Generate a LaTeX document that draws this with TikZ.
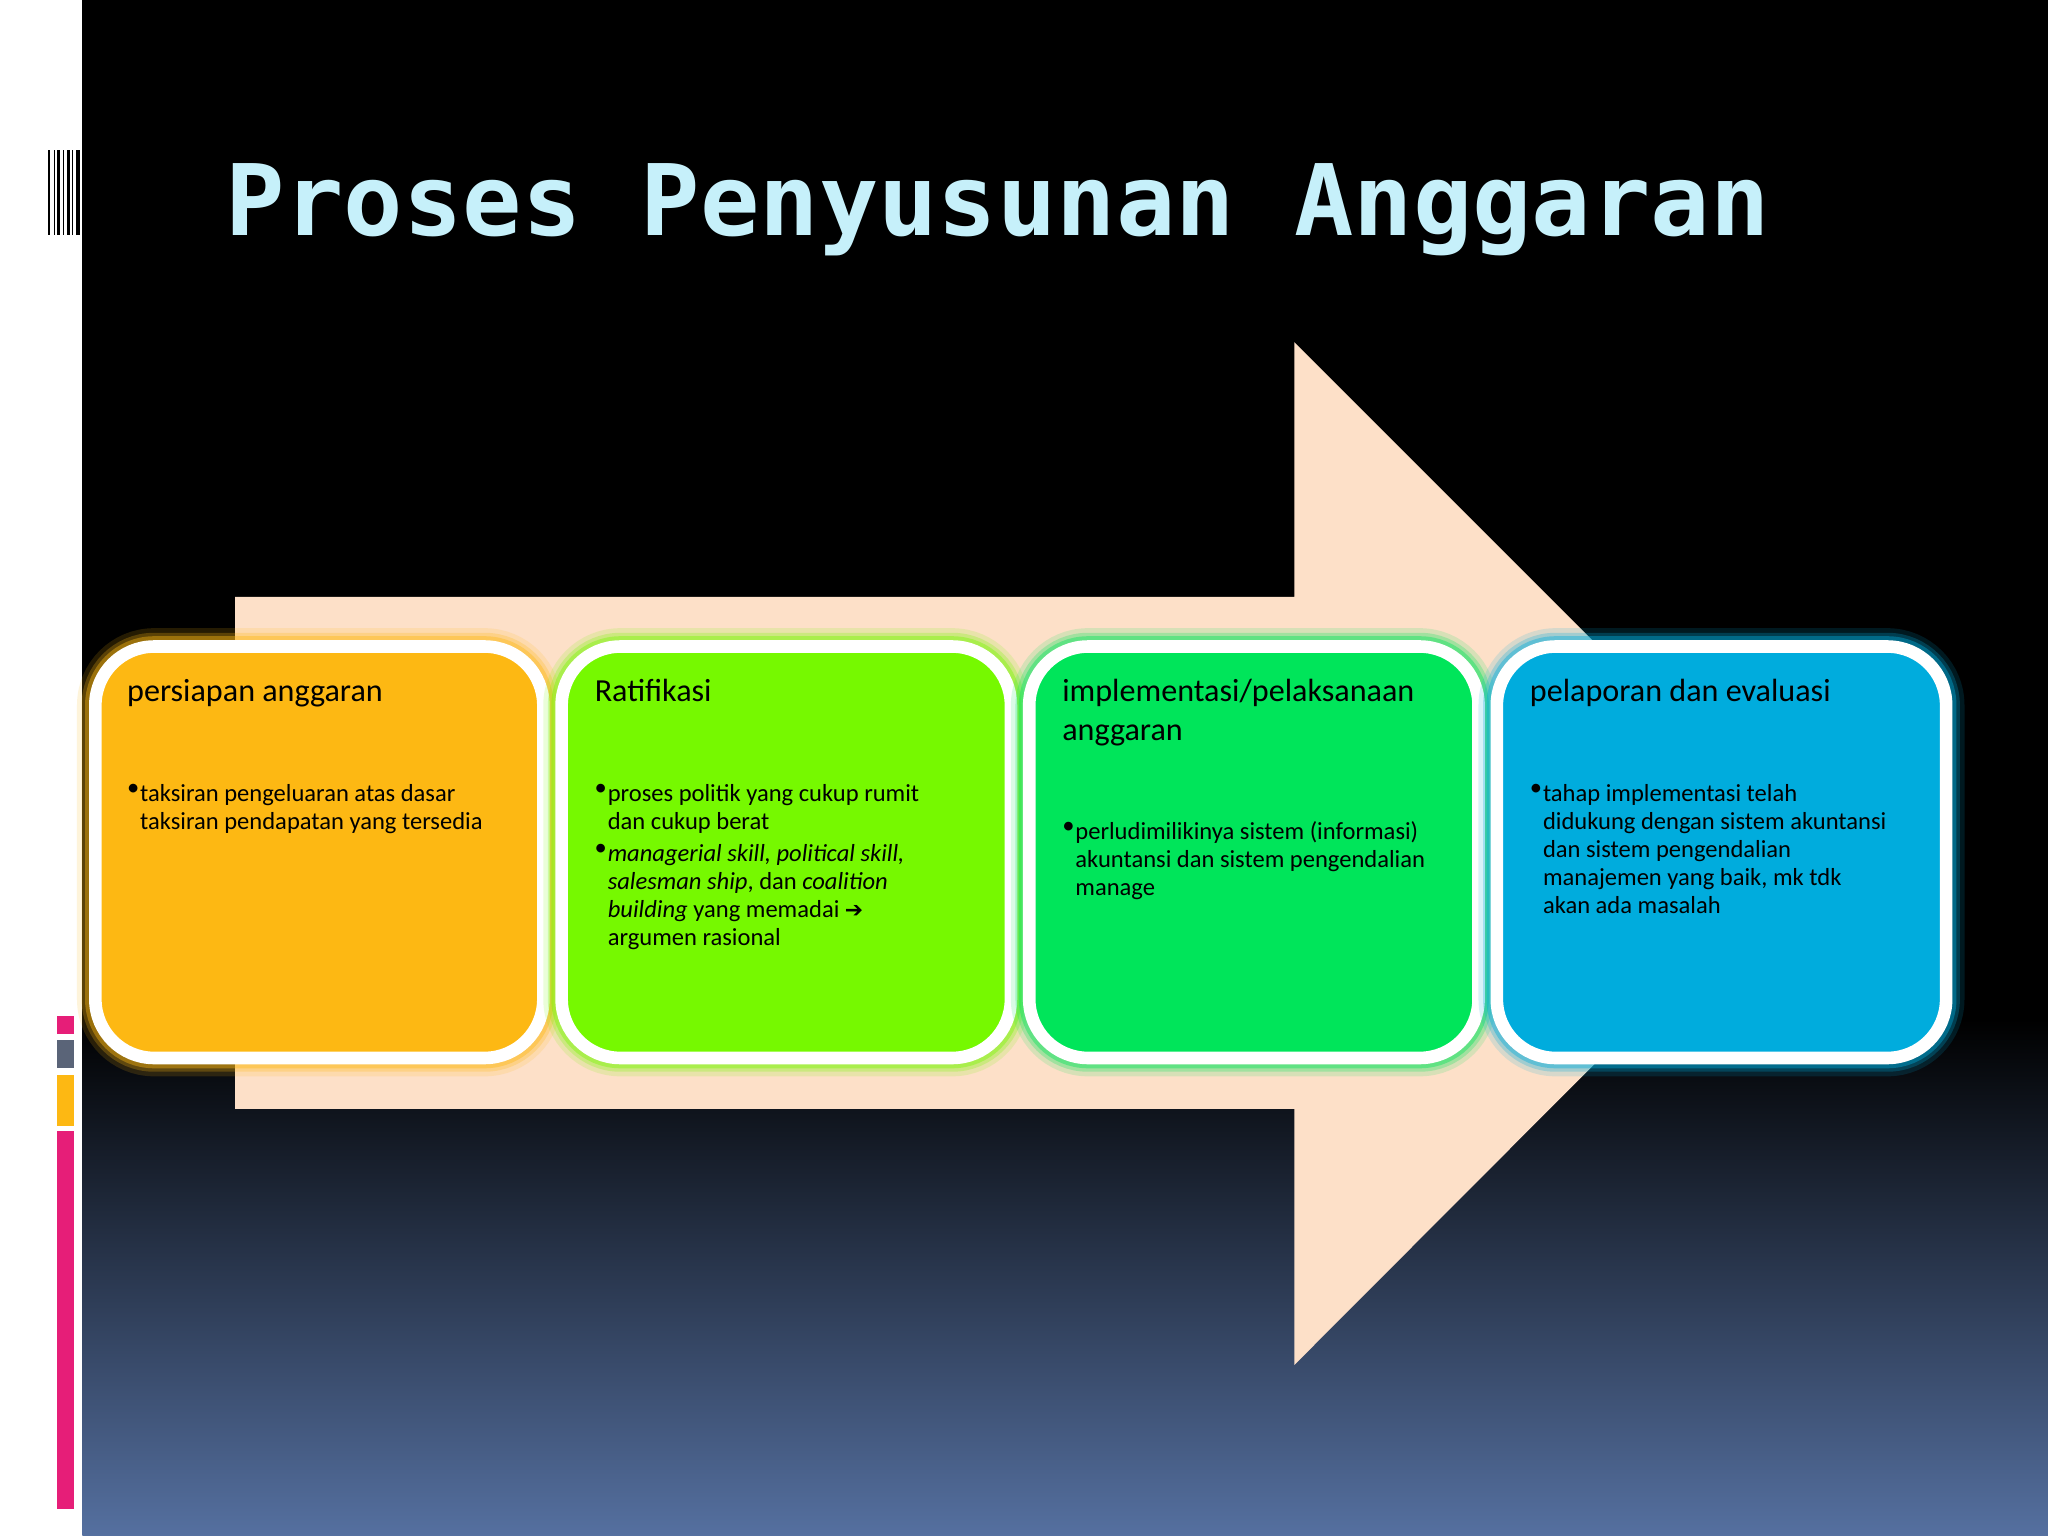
\documentclass[tikz,border=0pt]{standalone}
\usepackage{fontspec}
\setmainfont{Carlito}
\newfontfamily\titlefont{DejaVu Sans Mono}
\newfontfamily\djv{DejaVu Sans}
\definecolor{bgblue}{RGB}{85,112,160}
\definecolor{peach}{RGB}{253,224,200}
\definecolor{titlec}{RGB}{198,240,250}
\definecolor{c1}{RGB}{253,184,19}
\definecolor{c2}{RGB}{118,249,0}
\definecolor{c3}{RGB}{0,229,90}
\definecolor{c4}{RGB}{0,172,221}
\definecolor{pinkbar}{RGB}{230,30,120}
\definecolor{graybar}{RGB}{90,100,120}
\tikzset{
 stage/.style={draw=white,line width=5.5pt,rounded corners=0.9cm},
 head/.style={anchor=north west,align=left,inner sep=0pt,font=\fontsize{14}{17}\selectfont},
 body/.style={anchor=north west,align=left,inner sep=0pt,font=\fontsize{10.7}{12.2}\selectfont},
 bul/.style={anchor=north east,inner sep=0pt,font=\fontsize{10.7}{12.2}\selectfont}
}
\begin{document}
\begin{tikzpicture}[x=0.02cm,y=-0.02cm]
\useasboundingbox (0,0) rectangle (1568,1176);
\fill[white] (0,0) rectangle (63,1176);
\fill[black] (63,0) rectangle (1568,781);
\shade[top color=black,bottom color=bgblue] (63,780) rectangle (1568,1176);
% left decorations
\foreach \x/\w in {37/1.5,41/1,44/2,48/1,51/2.5,55/1.2,58/3}{\fill[black] (\x,115) rectangle (\x+\w,180);}
\fill[pinkbar] (44,778) rectangle (57,792);
\fill[graybar] (44,796) rectangle (57,818);
\fill[c1] (44,823) rectangle (57,862);
\fill[pinkbar] (44,866) rectangle (57,1155);
% title
\node[anchor=base west,inner sep=0pt,text=titlec,font=\titlefont\bfseries\fontsize{43}{50}\selectfont] (title) at (172,180) {Proses Penyusunan Anggaran};
% big arrow
\fill[peach] (180,457) -- (991,457) -- (991,262) -- (1382,653) -- (991,1045) -- (991,849) -- (180,849) -- cycle;
% boxes with glow
\foreach \xa/\xb/\col [count=\i] in {73/416/c1,430/774/c2,788/1132/c3,1146/1490/c4}{
  \foreach \lw/\op in {16/0.15,12/0.25,9/0.4}{
    \draw[\col,line width=\lw pt,opacity=\op,rounded corners=0.9cm] (\xa,495) rectangle (\xb,810);}
  \draw[stage,fill=\col] (\xa,495) rectangle (\xb,810);
}
% texts box 1
\node[head] (h1) at (97,520) {persiapan anggaran};
\node[bul] (b1) at (107,600) {•};
\node[body] (t1) at (107,600) {taksiran pengeluaran atas dasar\\taksiran pendapatan yang tersedia};
% box 2
\node[head] (h2) at (455,520) {Ratifikasi};
\node[bul] (b2a) at (465,600) {•};
\node[body] (t2a) at (465,600) {proses politik yang cukup rumit\\dan cukup berat};
\node[bul] (b2b) at (465,646) {•};
\node[body] (t2b) at (465,646) {\textit{managerial skill, political skill,}\\\textit{salesman ship}, dan \textit{coalition}\\\textit{building} yang memadai {\djv\fontsize{9.5}{12}\selectfont ➔}\\argumen rasional};
% box 3
\node[head] (h3) at (813,520) {implementasi/pelaksanaan\\anggaran};
\node[bul] (b3) at (823,629) {•};
\node[body] (t3) at (823,629) {perludimilikinya sistem (informasi)\\akuntansi dan sistem pengendalian\\manage};
% box 4
\node[head] (h4) at (1171,520) {pelaporan dan evaluasi};
\node[bul] (b4) at (1181,600) {•};
\node[body] (t4) at (1181,600) {tahap implementasi telah\\didukung dengan sistem akuntansi\\dan sistem pengendalian\\manajemen yang baik, mk tdk\\akan ada masalah};
\end{tikzpicture}
\end{document}
